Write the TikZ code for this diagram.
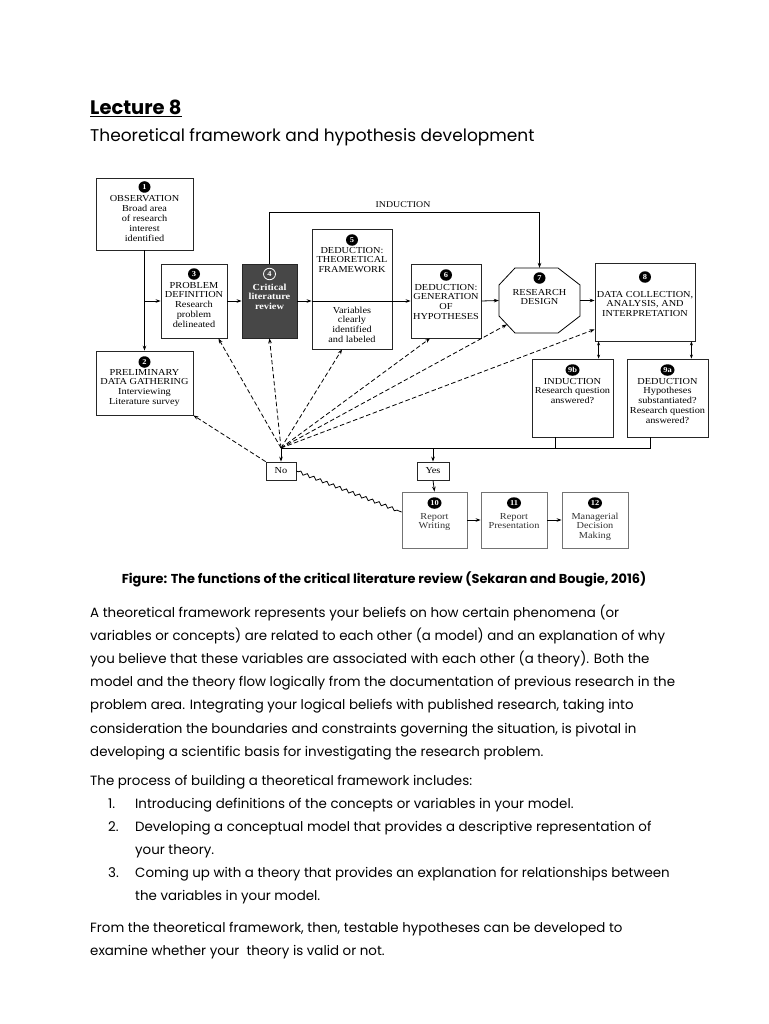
\documentclass[tikz,border=0pt]{standalone}
\usepackage{fontspec}
\setmainfont{Poppins}
\newfontfamily\dfont{Liberation Serif}[FakeStretch=1.12]
\usetikzlibrary{arrows.meta,calc,decorations.pathmorphing,shapes.geometric}
\begin{document}
\begin{tikzpicture}[x=1pt,y=-1pt,
  box/.style={draw=black!85, line width=0.8pt, fill=white, inner sep=0pt},
  gbox/.style={draw=black!55, line width=0.8pt, fill=white, inner sep=0pt},
  lbl/.style={font=\dfont\fontsize{9.2}{9.8}\selectfont, align=center, inner sep=0pt, anchor=base},
  glbl/.style={lbl, text=black!80},
  badge/.style={ellipse, fill=black, text=white, inner sep=0pt, minimum height=11.5pt, minimum width=12pt, font=\dfont\bfseries\fontsize{7.5}{7.5}\selectfont},
  arr/.style={-{Stealth[length=5pt,width=3.6pt]}, line width=0.8pt},
  darr/.style={arr, dash pattern=on 4.5pt off 2.5pt},
  ln/.style={line width=0.8pt},
  body/.style={anchor=base west, align=left, inner sep=0pt, font=\fontsize{13.4}{23.2}\selectfont},
]
\useasboundingbox (0,0) rectangle (768,1024);
\fill[white] (0,0) rectangle (768,1024);

% headings
\node[anchor=base west, inner sep=0pt, font=\bfseries\fontsize{19.5}{24}\selectfont] (title) at (90,115) {\underline{Lecture 8}};
\node[anchor=base west, inner sep=0pt, font=\fontsize{17}{20}\selectfont] (subtitle) at (90,142) {Theoretical framework and hypothesis development};

% boxes
\node[box, minimum width=97pt, minimum height=72pt] (b1) at (144.5,214) {};
\node[box, minimum width=97pt, minimum height=64pt] (b2) at (144.5,383) {};
\node[box, minimum width=66pt, minimum height=74pt] (b3) at (194,301) {};
\node[box, fill=black!72, minimum width=55pt, minimum height=74pt] (b4) at (269.5,301) {};
\node[box, minimum width=80pt, minimum height=120pt] (b5) at (352,289) {};
\node[box, minimum width=70pt, minimum height=74pt] (b6) at (446,301) {};
\node[inner sep=0pt, minimum width=81pt, minimum height=65pt] (oct) at (539.5,300.5) {};
\draw[ln, fill=white] (515,268) -- (558,268) -- (580,285) -- (580,316) -- (558,333) -- (515,333) -- (499,316) -- (499,285) -- cycle;
\node[box, minimum width=100pt, minimum height=78pt] (b8) at (645,302) {};
\node[box, minimum width=81pt, minimum height=78pt] (b9b) at (572.5,398) {};
\node[box, minimum width=81pt, minimum height=78pt] (b9a) at (667.5,398) {};
\node[box, minimum width=30pt, minimum height=18pt, font=\dfont\fontsize{9.2}{10}\selectfont] (no) at (281,471) {No};
\node[box, minimum width=32pt, minimum height=18pt, font=\dfont\fontsize{9.2}{10}\selectfont] (yes) at (433,471) {Yes};
\node[gbox, minimum width=65pt, minimum height=56pt] (b10) at (434.5,520) {};
\node[gbox, minimum width=66pt, minimum height=56pt] (b11) at (514,520) {};
\node[gbox, minimum width=66pt, minimum height=56pt] (b12) at (595,520) {};

% badges and labels (anchor=base gives the last line's baseline)
\node[badge] (n1) at (144.5,187) {1};
\node[lbl] (t1) at (144.5,241.2) {OBSERVATION\\Broad area\\of research\\interest\\identified};
\node[badge] (n3) at (194,274) {3};
\node[lbl] (t3) at (194,327.2) {PROBLEM\\DEFINITION\\Research\\problem\\delineated};
\node[badge, fill=none, draw=white, line width=0.8pt] (n4) at (269.5,274) {4};
\node[lbl, text=white, font=\dfont\bfseries\fontsize{9.2}{9.8}\selectfont] (t4) at (269.5,309.6) {Critical\\literature\\review};
\node[badge] (n5) at (352,240) {5};
\node[lbl] (t5) at (352,272.6) {DEDUCTION:\\THEORETICAL\\FRAMEWORK};
\node[lbl] (t5b) at (352,342.4) {Variables\\clearly\\identified\\and labeled};
\node[badge] (n6) at (446,275) {6};
\node[lbl] (t6) at (446,319.4) {DEDUCTION:\\GENERATION\\OF\\HYPOTHESES};
\node[badge] (n7) at (539.5,278) {7};
\node[lbl] (t7) at (539.5,304.8) {RESEARCH\\DESIGN};
\node[badge] (n8) at (645,277) {8};
\node[lbl] (t8) at (645,316.6) {DATA COLLECTION,\\ANALYSIS, AND\\INTERPRETATION};
\node[badge] (n2) at (144.5,362) {2};
\node[lbl] (t2) at (144.5,404.4) {PRELIMINARY\\DATA GATHERING\\Interviewing\\Literature survey};
\node[badge, minimum width=14pt] (n9b) at (572.5,370) {9b};
\node[lbl] (t9b) at (572.5,403.6) {INDUCTION\\Research question\\answered?};
\node[badge, minimum width=14pt] (n9a) at (667.5,370) {9a};
\node[lbl] (t9a) at (667.5,423.2) {DEDUCTION\\Hypotheses\\substantiated?\\Research question\\answered?};
\node[badge, minimum width=14pt] (n10) at (434.5,503) {10};
\node[glbl] (t10) at (434.5,528.8) {Report\\Writing};
\node[badge, minimum width=14pt] (n11) at (514,503) {11};
\node[glbl] (t11) at (514,528.8) {Report\\Presentation};
\node[badge, minimum width=14pt] (n12) at (595,503) {12};
\node[glbl] (t12) at (595,538.6) {Managerial\\Decision\\Making};

% solid connectors
\draw[arr] (b1.south) -- (b2.north);
\draw[arr] (b3.west -| b1.south) -- (b3.west);
\draw[arr] (b3.east) -- (b4.west);
\draw[arr] (b4.east) -- (b4.east -| b5.west);
\draw[arr] (b4.east -| b5.west) -- (b6.west);
\draw[arr] (b6.east) -- (oct.west);
\draw[arr] (oct.east) -- (oct.east -| b8.west);
\coordinate (indy) at (0,212);
\draw[arr] (b4.north) -- (b4.north |- indy) -| (oct.north);
\node[font=\dfont\fontsize{8.8}{10}\selectfont, inner sep=0pt] (indlbl) at (403,205) {INDUCTION};
\draw[{Stealth[length=4pt,width=3pt]}-{Stealth[length=4pt,width=3pt]}, line width=0.8pt] ([xshift=4pt]b8.south west) -- ([xshift=4pt]b8.south west |- b9b.north);
\draw[{Stealth[length=4pt,width=3pt]}-{Stealth[length=4pt,width=3pt]}, line width=0.8pt] ([xshift=-4pt]b8.south east) -- ([xshift=-4pt]b8.south east |- b9a.north);
\coordinate (hub) at (281,448);
\coordinate (j9b) at (555,448);
\coordinate (j9a) at (650,448);
\draw[ln] (b9b.south -| j9b) -- (j9b);
\draw[ln] (b9a.south -| j9a) -- (j9a) -- (hub);
\draw[arr] (hub) -- (no.north);
\draw[arr] (yes.north |- hub) -- (yes.north);
\draw[arr] (yes.south) -- (b10.north);
\draw[arr] (b10.east) -- (b11.west);
\draw[arr] (b11.east) -- (b12.west);
\draw[ln, decorate, decoration={snake, amplitude=1.5pt, segment length=7pt, pre length=2pt, post length=2pt}] (no.east) -- ([yshift=8pt]b10.west);

% dashed connectors
\coordinate (octt) at (507,324.5);
\draw[darr] (no.north west) -- (b2.south east);
\draw[darr] (hub) -- ([xshift=-9pt]b3.south east);
\draw[darr] (hub) -- (b4.south);
\draw[darr] (hub) -- ([xshift=-10pt]b5.south);
\draw[darr] (hub) -- ([xshift=-16pt]b6.south);
\draw[darr] (hub) -- (octt);
\draw[darr] (hub) -- ([yshift=12pt]b8.south west);

% caption and text
\node[anchor=base, inner sep=0pt, font=\bfseries\fontsize{12.9}{15}\selectfont] (caption) at (384,583) {Figure: The functions of the critical literature review (Sekaran and Bougie, 2016)};
\node[body] (p1) at (90,756.2) {A theoretical framework represents your beliefs on how certain phenomena (or\\
variables or concepts) are related to each other (a model) and an explanation of why\\
you believe that these variables are associated with each other (a theory). Both the\\
model and the theory flow logically from the documentation of previous research in the\\
problem area. Integrating your logical beliefs with published research, taking into\\
consideration the boundaries and constraints governing the situation, is pivotal in\\
developing a scientific basis for investigating the research problem.};
\node[body] (p2) at (90,785) {The process of building a theoretical framework includes:};
\node[body] (p3) at (108,900.8) {\makebox[27pt][l]{1.}Introducing definitions of the concepts or variables in your model.\\
\makebox[27pt][l]{2.}Developing a conceptual model that provides a descriptive representation of\\
\hspace*{27pt}your theory.\\
\makebox[27pt][l]{3.}Coming up with a theory that provides an explanation for relationships between\\
\hspace*{27pt}the variables in your model.};
\node[body] (p4) at (90,955.2) {From the theoretical framework, then, testable hypotheses can be developed to\\
examine whether your\ \ theory is valid or not.};
\end{tikzpicture}
\end{document}
